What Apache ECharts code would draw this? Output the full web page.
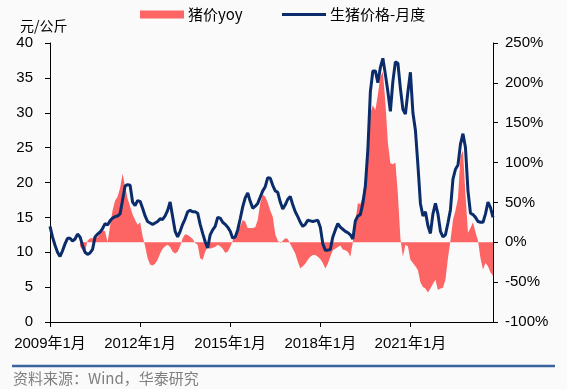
<!DOCTYPE html>
<html><head><meta charset="utf-8">
<script src="https://cdn.jsdelivr.net/npm/echarts@6/dist/echarts.min.js"></script>
<style>html,body{margin:0;padding:0;background:#fafafa}#c{width:567px;height:389px}</style>
</head><body><div id="c"></div>
<script>
// Months 2009-01 .. 2023-10
const startYear = 2009;
const monthCount = 178;
const categories = [];
for (let i = 0; i < monthCount; i++) {
  categories.push((startYear + Math.floor(i / 12)) + '年' + (i % 12 + 1) + '月');
}

// 生猪价格-月度 (元/公斤), left axis
const hogPrice = [
  13.7,12.2,11.0,10.0,9.4,10.2,11.2,12.0,12.0,11.6,11.9,12.6,
  12.2,11.0,10.0,9.7,9.9,10.4,12.2,12.6,12.9,13.4,14.1,13.9,
  14.5,14.9,15.1,15.2,15.5,17.5,19.5,19.7,19.6,17.2,16.7,17.4,
  17.3,16.3,15.2,14.4,14.2,14.0,14.2,14.4,14.8,14.7,15.2,16.0,
  17.2,15.1,13.0,12.2,13.0,14.0,14.8,15.8,16.0,15.8,15.8,15.6,
  14.0,12.7,11.5,10.6,12.5,13.2,13.7,15.0,14.9,14.3,14.0,13.6,
  13.0,12.0,12.2,13.2,14.8,16.5,17.8,18.5,17.3,16.3,16.6,17.0,
  17.9,18.8,19.4,20.7,20.6,19.6,18.8,18.6,17.2,16.2,16.8,17.6,
  18.0,16.8,15.8,15.1,14.3,13.7,14.0,14.6,14.5,14.4,14.5,14.6,
  13.6,11.2,10.3,10.3,10.4,12.2,13.2,14.1,13.6,13.3,13.0,12.8,
  12.5,11.9,14.5,15.2,15.4,17.0,19.5,24.7,33.0,36.0,36.0,34.3,
  36.5,37.8,35.5,33.0,30.2,34.5,37.3,37.1,33.5,30.5,29.8,33.0,
  35.8,30.0,27.5,22.5,17.0,15.2,15.8,13.8,12.7,15.5,17.0,15.5,
  13.0,12.2,12.5,14.2,16.1,20.5,21.9,22.5,25.5,27.0,25.0,18.8,
  15.6,15.4,15.0,14.4,14.3,14.3,15.5,17.2,16.4,15.0
];

// 猪价yoy (%), right axis; starts 2010-01
const hogYoy = [
  null,null,null,null,null,null,null,null,null,null,null,null,
  -5,-10,-12,2,5,5,7,6,12,15,14,0,
  20,40,52,57,68,86,70,55,45,35,28,22,
  25,8,-5,-20,-28,-29,-27,-22,-14,-8,-5,-3,
  -6,-12,-14,-12,-5,5,10,9,7,4,-1,-3,
  -20,-22,-12,-6,-8,-7,-6,-3,-5,-8,-13,-12,
  -6,2,8,13,20,28,26,18,18,18,19,28,
  49,60,57,50,40,32,10,2,-1,2,5,4,
  -2,-8,-14,-24,-33,-30,-27,-22,-18,-16,-16,-18,
  -21,-26,-33,-27,-18,-10,-8,-6,-4,-9,-10,-12,
  -18,0,25,49,48,58,80,133,162,172,166,185,
  208,214,175,125,99,98,100,60,5,-18,-3,-5,
  -22,-26,-30,-35,-50,-56,-58,-63,-58,-52,-47,-60,
  -58,-57,-47,-20,2,28,40,55,108,115,60,12,
  18,25,13,2,-20,-34,-26,-30,-38,-42
];

const leftTicks = { min: 0, max: 40, interval: 5 };
const rightTicks = { min: -100, max: 250, interval: 50 };

const FONT = '"Liberation Sans", Arial, "Noto Sans CJK SC", sans-serif';
const CJK = '"Noto Sans CJK SC", sans-serif';
const legendBase = {
  top: 7, padding: 0, itemWidth: 44, itemHeight: 8, itemGap: 4,
  textStyle: { fontSize: 15, color: '#000', fontFamily: CJK, padding: [0, 0, 0, -1] }
};
const chart = echarts.init(document.getElementById('c'));
chart.setOption({
  backgroundColor: '#fafafa',
  animation: false,
  textStyle: { fontFamily: FONT },
  grid: { left: 50, right: 74, top: 43, bottom: 67 },
  legend: [
    Object.assign({}, legendBase, { left: 140, data: [{ name: '猪价yoy', icon: 'rect' }] }),
    Object.assign({}, legendBase, { left: 282, data: [{ name: '生猪价格-月度', icon: 'path://M0,0H44V3.2H0Z' }] })
  ],
  xAxis: {
    type: 'category', data: categories, boundaryGap: false,
    axisLine: { lineStyle: { color: '#000', width: 1 } },
    axisTick: { interval: 35, length: 5, lineStyle: { color: '#000' } },
    axisLabel: { interval: 35, fontSize: 15, color: '#000', margin: 14, fontFamily: FONT },
    splitLine: { show: false }
  },
  yAxis: [
    {
      type: 'value', min: leftTicks.min, max: leftTicks.max, interval: leftTicks.interval,
      axisLine: { show: true, lineStyle: { color: '#000', width: 1 } },
      axisTick: { show: true, length: 5, lineStyle: { color: '#000' } },
      axisLabel: { fontSize: 15, color: '#000', margin: 17, fontFamily: FONT },
      splitLine: { show: false }
    },
    {
      type: 'value', min: rightTicks.min, max: rightTicks.max, interval: rightTicks.interval,
      position: 'right',
      axisLine: { show: true, lineStyle: { color: '#000', width: 1 } },
      axisTick: { show: true, length: 5, lineStyle: { color: '#000' } },
      axisLabel: { fontSize: 15, color: '#000', margin: 12, formatter: '{value}%', fontFamily: FONT },
      splitLine: { show: false }
    }
  ],
  series: [
    {
      name: '猪价yoy', type: 'line', yAxisIndex: 1, data: hogYoy,
      symbol: 'none', color: '#fd6464',
      lineStyle: { width: 0 },
      areaStyle: { color: '#fd6464', opacity: 1 },
      z: 1
    },
    {
      name: '生猪价格-月度', type: 'line', yAxisIndex: 0, data: hogPrice,
      symbol: 'none', color: '#0b2c6a',
      lineStyle: { width: 3, color: '#0b2c6a' },
      z: 2
    }
  ],
  graphic: [
    { type: 'text', left: 20, top: 19, style: { text: '元/公斤', fontSize: 14, fill: '#000', fontFamily: CJK } },
    { type: 'line', shape: { x1: 12, y1: 366, x2: 555, y2: 366 }, style: { stroke: '#3b659f', lineWidth: 2.5 } },
    { type: 'text', left: 13, top: 371, style: { text: '资料来源：Wind，华泰研究', fontSize: 15, fill: '#7f7f7f', fontFamily: CJK } }
  ]
});
</script>
</body></html>
